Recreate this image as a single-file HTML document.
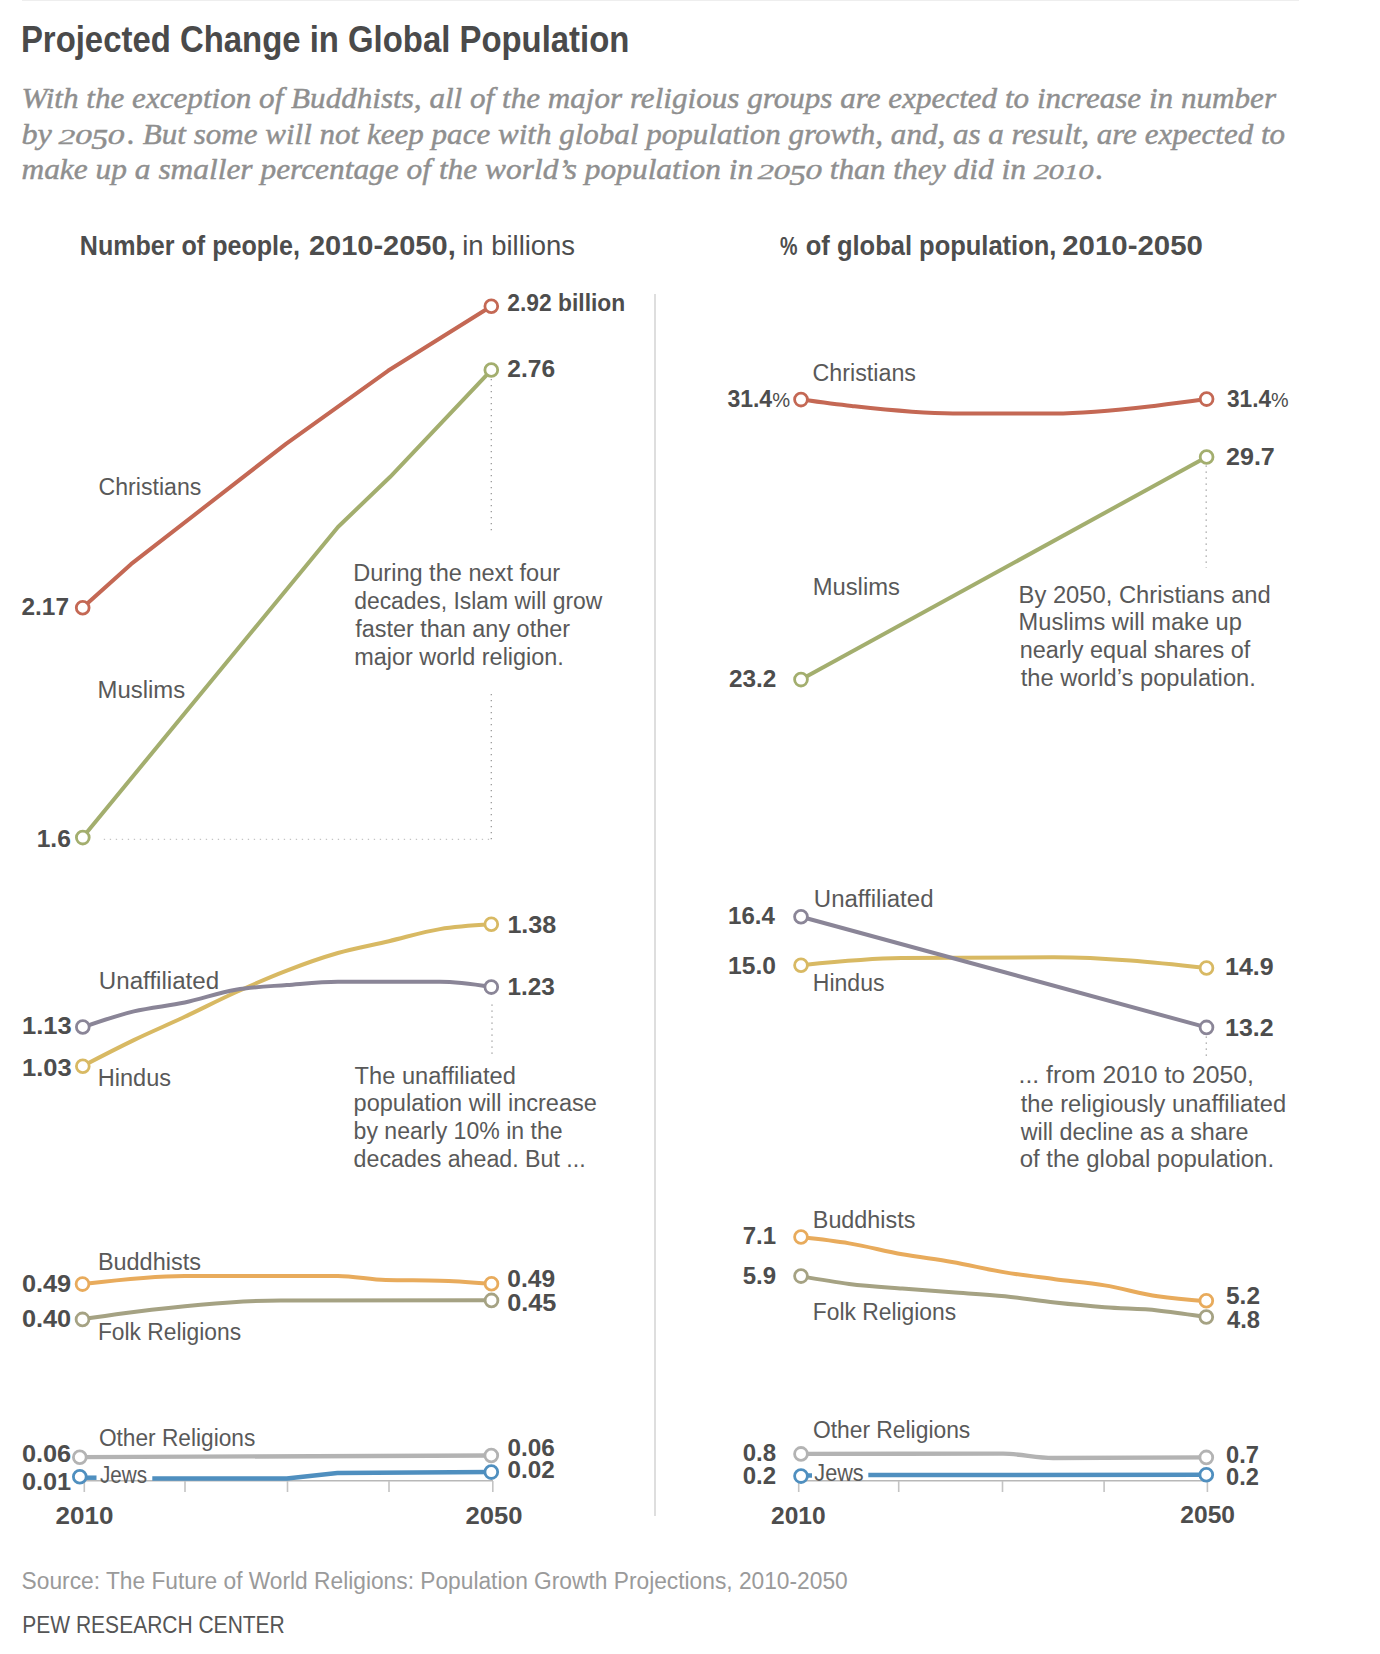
<!DOCTYPE html><html><head><meta charset="utf-8"><title>Projected Change in Global Population</title><style>html,body{margin:0;padding:0;background:#fff;width:1380px;height:1654px;overflow:hidden}svg{display:block}text{font-family:"Liberation Sans",sans-serif}</style></head><body>
<svg width="1380" height="1654" viewBox="0 0 1380 1654">
<rect x="0" y="0" width="1380" height="1654" fill="#fff"/>
<rect x="22" y="0" width="1277" height="1" fill="#eeeeee"/>
<rect x="654" y="294" width="2" height="1222" fill="#dedede"/>
<line x1="491.3" y1="379" x2="491.3" y2="534" stroke="#9a9a9a" stroke-width="1.3" stroke-dasharray="1.3 4.7"/>
<line x1="491.3" y1="694" x2="491.3" y2="840" stroke="#9a9a9a" stroke-width="1.3" stroke-dasharray="1.3 4.7"/>
<line x1="103.8" y1="839.3" x2="491.3" y2="839.3" stroke="#c4c4c4" stroke-width="1.3" stroke-dasharray="1.3 4.7"/>
<line x1="492" y1="1004.5" x2="492" y2="1056" stroke="#9a9a9a" stroke-width="1.3" stroke-dasharray="1.3 4.7"/>
<line x1="1206.2" y1="465.5" x2="1206.2" y2="568" stroke="#9a9a9a" stroke-width="1.3" stroke-dasharray="1.3 4.7"/>
<line x1="1206.3" y1="1036.5" x2="1206.3" y2="1056" stroke="#9a9a9a" stroke-width="1.3" stroke-dasharray="1.3 4.7"/>
<rect x="82" y="1480" width="411" height="1.5" fill="#b8b8b8"/>
<rect x="799" y="1480" width="409" height="1.5" fill="#b8b8b8"/>
<rect x="83.5" y="1481" width="1.6" height="11" fill="#c4c4c4"/>
<rect x="184.2" y="1481" width="1.6" height="11" fill="#c4c4c4"/>
<rect x="286.7" y="1481" width="1.6" height="11" fill="#c4c4c4"/>
<rect x="388.2" y="1481" width="1.6" height="11" fill="#c4c4c4"/>
<rect x="492.0" y="1481" width="1.6" height="11" fill="#c4c4c4"/>
<rect x="797.9000000000001" y="1481" width="1.6" height="11" fill="#c4c4c4"/>
<rect x="897.9000000000001" y="1481" width="1.6" height="11" fill="#c4c4c4"/>
<rect x="1001.7" y="1481" width="1.6" height="11" fill="#c4c4c4"/>
<rect x="1103.3" y="1481" width="1.6" height="11" fill="#c4c4c4"/>
<rect x="1206.6000000000001" y="1481" width="1.6" height="11" fill="#c4c4c4"/>
<path d="M82.8,607.6 L131,564.2 L286,443.8 L388,370.8 L491.3,306.3" fill="none" stroke="#c46854" stroke-width="4.0" stroke-linejoin="round"/>
<path d="M82.8,837.2 L338,527 L390,477 L491.3,370" fill="none" stroke="#a3ae6e" stroke-width="4.0" stroke-linejoin="round"/>
<path d="M82.8,1066.0 C99.8,1057.1 116.8,1048.3 133.8,1040.1 C150.8,1031.9 167.8,1024.8 184.8,1016.8 C201.8,1008.8 218.8,1000.0 235.8,992.3 C252.8,984.6 269.8,977.1 286.8,970.6 C303.8,964.0 320.9,957.9 337.9,953.0 C354.9,948.1 371.9,945.2 388.9,941.2 C405.9,937.2 422.9,931.9 439.9,929.1 C457.0,926.3 474.2,925.3 491.3,924.3" fill="none" stroke="#d8b963" stroke-width="4.0" stroke-linejoin="round"/>
<path d="M82.8,1027.2 C99.8,1021.4 116.8,1015.5 133.8,1011.4 C150.8,1007.3 167.8,1006.1 184.8,1002.5 C201.8,998.9 218.8,992.6 235.8,989.7 C252.8,986.8 269.8,986.3 286.8,985.0 C303.8,983.7 320.9,981.7 337.9,981.7 C371.9,981.7 405.9,981.7 439.9,981.7 C457.0,981.7 474.2,984.2 491.3,986.8" fill="none" stroke="#8a8597" stroke-width="4.0" stroke-linejoin="round"/>
<path d="M82.6,1284.0 C116.7,1280.0 150.7,1275.9 184.8,1275.9 C235.8,1275.9 286.9,1275.9 337.9,1275.9 C353.8,1275.9 369.8,1279.6 385.7,1280.0 C403.8,1280.5 421.8,1280.2 439.9,1280.7 C457.1,1281.1 474.2,1282.5 491.4,1283.8" fill="none" stroke="#e8ab5c" stroke-width="4.0" stroke-linejoin="round"/>
<path d="M82.6,1319.2 C99.7,1316.7 116.7,1314.1 133.8,1312.0 C182.7,1305.9 231.6,1300.6 280.5,1300.5 C350.8,1300.3 421.1,1300.2 491.4,1300.2" fill="none" stroke="#a5a283" stroke-width="4.0" stroke-linejoin="round"/>
<path d="M79.8,1457.2 L491.3,1455.5" fill="none" stroke="#b3b3b3" stroke-width="4.3" stroke-linejoin="round"/>
<path d="M801.0,399.6 C817.9,401.9 834.8,404.2 851.7,406.0 C885.5,409.7 919.2,413.5 953.0,413.5 C986.8,413.5 1020.7,413.5 1054.5,413.5 C1088.3,413.5 1122.2,409.5 1156.0,405.7 C1172.9,403.8 1189.7,401.5 1206.6,399.1" fill="none" stroke="#c46854" stroke-width="4.0" stroke-linejoin="round"/>
<path d="M801,679.6 L1206.6,457" fill="none" stroke="#a3ae6e" stroke-width="4.0" stroke-linejoin="round"/>
<path d="M801.0,965.2 C834.4,961.8 867.9,958.3 901.3,958.0 C952.3,957.5 1003.3,957.2 1054.3,957.2 C1105.0,957.2 1155.8,962.6 1206.5,968.0" fill="none" stroke="#d8b963" stroke-width="4.0" stroke-linejoin="round"/>
<path d="M801,916.7 L1206.5,1027.4" fill="none" stroke="#8a8597" stroke-width="4.0" stroke-linejoin="round"/>
<path d="M800.9,1237.1 C817.0,1238.9 833.1,1240.7 849.2,1243.4 C866.9,1246.3 884.5,1251.1 902.2,1254.3 C918.8,1257.3 935.4,1259.1 952.0,1262.0 C969.7,1265.1 987.3,1269.5 1005.0,1272.4 C1021.6,1275.2 1038.3,1277.0 1054.9,1279.2 C1071.5,1281.4 1088.1,1282.7 1104.7,1285.4 C1122.4,1288.3 1140.0,1293.6 1157.7,1296.3 C1173.9,1298.7 1190.0,1300.0 1206.2,1301.2" fill="none" stroke="#e8ab5c" stroke-width="4.0" stroke-linejoin="round"/>
<path d="M800.9,1276.1 C817.0,1279.0 833.1,1281.9 849.2,1283.9 C866.9,1286.1 884.5,1287.2 902.2,1288.6 C918.8,1289.9 935.4,1291.1 952.0,1292.3 C969.7,1293.6 987.3,1294.5 1005.0,1296.3 C1021.6,1298.0 1038.3,1300.8 1054.9,1302.6 C1071.5,1304.4 1088.1,1306.0 1104.7,1307.3 C1122.4,1308.7 1140.0,1308.6 1157.7,1310.4 C1173.9,1312.0 1190.0,1314.6 1206.2,1317.1" fill="none" stroke="#a5a283" stroke-width="4.0" stroke-linejoin="round"/>
<path d="M801.0,1453.9 C868.3,1453.8 935.7,1453.7 1003.0,1453.7 C1019.7,1453.7 1036.3,1458.0 1053.0,1458.0 C1104.1,1458.0 1155.2,1457.7 1206.3,1457.4" fill="none" stroke="#b3b3b3" stroke-width="4.3" stroke-linejoin="round"/>
<polyline points="79.8,1477.7 96.5,1477.7" fill="none" stroke="#4f8fbf" stroke-width="4.5"/>
<polyline points="152.3,1478.6 286.8,1478.6 337.4,1473 491.3,1472.1" fill="none" stroke="#4f8fbf" stroke-width="4.5" stroke-linejoin="round"/>
<polyline points="801,1475.5 812,1475.5" fill="none" stroke="#4f8fbf" stroke-width="4.5"/>
<polyline points="868.3,1475 1206.3,1474.8" fill="none" stroke="#4f8fbf" stroke-width="4.5"/>
<circle cx="82.7" cy="607.8" r="6.4" fill="#fff" stroke="#c46854" stroke-width="2.8"/>
<circle cx="491.3" cy="306.3" r="6.4" fill="#fff" stroke="#c46854" stroke-width="2.8"/>
<circle cx="82.8" cy="837.6" r="6.4" fill="#fff" stroke="#a3ae6e" stroke-width="2.8"/>
<circle cx="491.3" cy="370" r="6.4" fill="#fff" stroke="#a3ae6e" stroke-width="2.8"/>
<circle cx="82.8" cy="1027" r="6.4" fill="#fff" stroke="#8a8597" stroke-width="2.8"/>
<circle cx="491.3" cy="987.1" r="6.4" fill="#fff" stroke="#8a8597" stroke-width="2.8"/>
<circle cx="82.8" cy="1066.3" r="6.4" fill="#fff" stroke="#d8b963" stroke-width="2.8"/>
<circle cx="491.3" cy="924.3" r="6.4" fill="#fff" stroke="#d8b963" stroke-width="2.8"/>
<circle cx="82.5" cy="1284.1" r="6.4" fill="#fff" stroke="#e8ab5c" stroke-width="2.8"/>
<circle cx="491.5" cy="1283.7" r="6.4" fill="#fff" stroke="#e8ab5c" stroke-width="2.8"/>
<circle cx="82.5" cy="1319.4" r="6.4" fill="#fff" stroke="#a5a283" stroke-width="2.8"/>
<circle cx="491.5" cy="1300.4" r="6.4" fill="#fff" stroke="#a5a283" stroke-width="2.8"/>
<circle cx="79.8" cy="1457.2" r="6.4" fill="#fff" stroke="#b3b3b3" stroke-width="2.8"/>
<circle cx="491.3" cy="1455.5" r="6.4" fill="#fff" stroke="#b3b3b3" stroke-width="2.8"/>
<circle cx="79.8" cy="1476.7" r="6.4" fill="#fff" stroke="#4f8fbf" stroke-width="2.8"/>
<circle cx="491.3" cy="1472.1" r="6.4" fill="#fff" stroke="#4f8fbf" stroke-width="2.8"/>
<circle cx="801" cy="399.6" r="6.4" fill="#fff" stroke="#c46854" stroke-width="2.8"/>
<circle cx="1206.6" cy="399.1" r="6.4" fill="#fff" stroke="#c46854" stroke-width="2.8"/>
<circle cx="801" cy="679.6" r="6.4" fill="#fff" stroke="#a3ae6e" stroke-width="2.8"/>
<circle cx="1206.6" cy="457" r="6.4" fill="#fff" stroke="#a3ae6e" stroke-width="2.8"/>
<circle cx="801" cy="916.7" r="6.4" fill="#fff" stroke="#8a8597" stroke-width="2.8"/>
<circle cx="1206.5" cy="1027.4" r="6.4" fill="#fff" stroke="#8a8597" stroke-width="2.8"/>
<circle cx="801" cy="965.2" r="6.4" fill="#fff" stroke="#d8b963" stroke-width="2.8"/>
<circle cx="1206.5" cy="968" r="6.4" fill="#fff" stroke="#d8b963" stroke-width="2.8"/>
<circle cx="801" cy="1237" r="6.4" fill="#fff" stroke="#e8ab5c" stroke-width="2.8"/>
<circle cx="1206.3" cy="1300.7" r="6.4" fill="#fff" stroke="#e8ab5c" stroke-width="2.8"/>
<circle cx="801" cy="1276.1" r="6.4" fill="#fff" stroke="#a5a283" stroke-width="2.8"/>
<circle cx="1206.3" cy="1317" r="6.4" fill="#fff" stroke="#a5a283" stroke-width="2.8"/>
<circle cx="801" cy="1453.9" r="6.4" fill="#fff" stroke="#b3b3b3" stroke-width="2.8"/>
<circle cx="1206.3" cy="1457.4" r="6.4" fill="#fff" stroke="#b3b3b3" stroke-width="2.8"/>
<circle cx="801" cy="1476.1" r="6.4" fill="#fff" stroke="#4f8fbf" stroke-width="2.8"/>
<circle cx="1206.3" cy="1474.8" r="6.4" fill="#fff" stroke="#4f8fbf" stroke-width="2.8"/>
<text x="20.9" y="52" textLength="608.5" lengthAdjust="spacingAndGlyphs" font-size="37" font-weight="bold" fill="#4a4a4a">Projected Change in Global Population</text>
<text x="21.5" y="107.7" textLength="1254.5" lengthAdjust="spacingAndGlyphs" font-size="30" font-style="italic" style="font-family:&quot;Liberation Serif&quot;,serif" stroke="#8f8f8f" stroke-width="0.45" fill="#8f8f8f">With the exception of Buddhists, all of the major religious groups are expected to increase in number</text>
<text x="21.5" y="143.5" textLength="30.4" lengthAdjust="spacingAndGlyphs" font-size="30" font-style="italic" style="font-family:&quot;Liberation Serif&quot;,serif" stroke="#8f8f8f" stroke-width="0.45" fill="#8f8f8f">by</text>
<text transform="translate(58.6,143.5) scale(1,0.73)" x="0" y="0" textLength="16.9" lengthAdjust="spacingAndGlyphs" font-size="30" font-style="italic" style="font-family:&quot;Liberation Serif&quot;,serif" stroke="#8f8f8f" stroke-width="0.45" fill="#8f8f8f">2</text>
<text transform="translate(74.9,143.5) scale(1,0.73)" x="0" y="0" textLength="16.9" lengthAdjust="spacingAndGlyphs" font-size="30" font-style="italic" style="font-family:&quot;Liberation Serif&quot;,serif" stroke="#8f8f8f" stroke-width="0.45" fill="#8f8f8f">0</text>
<text x="91.2" y="148.8" textLength="16.9" lengthAdjust="spacingAndGlyphs" font-size="30" font-style="italic" style="font-family:&quot;Liberation Serif&quot;,serif" stroke="#8f8f8f" stroke-width="0.45" fill="#8f8f8f">5</text>
<text transform="translate(107.5,143.5) scale(1,0.73)" x="0" y="0" textLength="16.9" lengthAdjust="spacingAndGlyphs" font-size="30" font-style="italic" style="font-family:&quot;Liberation Serif&quot;,serif" stroke="#8f8f8f" stroke-width="0.45" fill="#8f8f8f">0</text>
<text x="127.3" y="143.5" textLength="1157.8" lengthAdjust="spacingAndGlyphs" font-size="30" font-style="italic" style="font-family:&quot;Liberation Serif&quot;,serif" stroke="#8f8f8f" stroke-width="0.45" fill="#8f8f8f">. But some will not keep pace with global population growth, and, as a result, are expected to</text>
<text x="21.5" y="179.3" textLength="731.7" lengthAdjust="spacingAndGlyphs" font-size="30" font-style="italic" style="font-family:&quot;Liberation Serif&quot;,serif" stroke="#8f8f8f" stroke-width="0.45" fill="#8f8f8f">make up a smaller percentage of the world’s population in</text>
<text transform="translate(757.4,179.3) scale(1,0.73)" x="0" y="0" textLength="16.6" lengthAdjust="spacingAndGlyphs" font-size="30" font-style="italic" style="font-family:&quot;Liberation Serif&quot;,serif" stroke="#8f8f8f" stroke-width="0.45" fill="#8f8f8f">2</text>
<text transform="translate(773.4,179.3) scale(1,0.73)" x="0" y="0" textLength="16.6" lengthAdjust="spacingAndGlyphs" font-size="30" font-style="italic" style="font-family:&quot;Liberation Serif&quot;,serif" stroke="#8f8f8f" stroke-width="0.45" fill="#8f8f8f">0</text>
<text x="789.3" y="184.60000000000002" textLength="16.6" lengthAdjust="spacingAndGlyphs" font-size="30" font-style="italic" style="font-family:&quot;Liberation Serif&quot;,serif" stroke="#8f8f8f" stroke-width="0.45" fill="#8f8f8f">5</text>
<text transform="translate(805.3,179.3) scale(1,0.73)" x="0" y="0" textLength="16.6" lengthAdjust="spacingAndGlyphs" font-size="30" font-style="italic" style="font-family:&quot;Liberation Serif&quot;,serif" stroke="#8f8f8f" stroke-width="0.45" fill="#8f8f8f">0</text>
<text x="829.7" y="179.3" textLength="196.2" lengthAdjust="spacingAndGlyphs" font-size="30" font-style="italic" style="font-family:&quot;Liberation Serif&quot;,serif" stroke="#8f8f8f" stroke-width="0.45" fill="#8f8f8f">than they did in</text>
<text transform="translate(1033.7,179.3) scale(1,0.73)" x="0" y="0" textLength="15.4" lengthAdjust="spacingAndGlyphs" font-size="30" font-style="italic" style="font-family:&quot;Liberation Serif&quot;,serif" stroke="#8f8f8f" stroke-width="0.45" fill="#8f8f8f">2</text>
<text transform="translate(1048.5,179.3) scale(1,0.73)" x="0" y="0" textLength="15.4" lengthAdjust="spacingAndGlyphs" font-size="30" font-style="italic" style="font-family:&quot;Liberation Serif&quot;,serif" stroke="#8f8f8f" stroke-width="0.45" fill="#8f8f8f">0</text>
<text transform="translate(1063.4,179.3) scale(1,0.73)" x="0" y="0" textLength="15.4" lengthAdjust="spacingAndGlyphs" font-size="30" font-style="italic" style="font-family:&quot;Liberation Serif&quot;,serif" stroke="#8f8f8f" stroke-width="0.45" fill="#8f8f8f">1</text>
<text transform="translate(1078.2,179.3) scale(1,0.73)" x="0" y="0" textLength="15.4" lengthAdjust="spacingAndGlyphs" font-size="30" font-style="italic" style="font-family:&quot;Liberation Serif&quot;,serif" stroke="#8f8f8f" stroke-width="0.45" fill="#8f8f8f">0</text>
<text x="1095.5" y="179.3" textLength="8.3" lengthAdjust="spacingAndGlyphs" font-size="30" font-style="italic" style="font-family:&quot;Liberation Serif&quot;,serif" stroke="#8f8f8f" stroke-width="0.45" fill="#8f8f8f">.</text>
<text x="79.8" y="255.1" textLength="220.2" lengthAdjust="spacingAndGlyphs" font-size="27" font-weight="bold" fill="#4d4d4d">Number of people,</text>
<text x="308.9" y="255.1" textLength="146.8" lengthAdjust="spacingAndGlyphs" font-size="27" font-weight="bold" fill="#4d4d4d">2010-2050,</text>
<text x="462.2" y="255.1" textLength="112.9" lengthAdjust="spacingAndGlyphs" font-size="27" fill="#4d4d4d">in billions</text>
<text x="780.0" y="255.3" textLength="17.5" lengthAdjust="spacingAndGlyphs" font-size="25" font-weight="bold" fill="#4d4d4d">%</text>
<text x="805.8" y="255.3" textLength="250.6" lengthAdjust="spacingAndGlyphs" font-size="27" font-weight="bold" fill="#4d4d4d">of global population,</text>
<text x="1062.2" y="255.3" textLength="140.7" lengthAdjust="spacingAndGlyphs" font-size="27" font-weight="bold" fill="#4d4d4d">2010-2050</text>
<text x="507.3" y="311.3" textLength="117.9" lengthAdjust="spacingAndGlyphs" font-size="24" font-weight="bold" fill="#4d4d4d">2.92 billion</text>
<text x="507.3" y="377.2" textLength="47.8" lengthAdjust="spacingAndGlyphs" font-size="24" font-weight="bold" fill="#4d4d4d">2.76</text>
<text x="98.6" y="494.8" textLength="102.7" lengthAdjust="spacingAndGlyphs" font-size="23" fill="#595959">Christians</text>
<text x="21.5" y="614.8" textLength="47.5" lengthAdjust="spacingAndGlyphs" font-size="24" font-weight="bold" fill="#4d4d4d">2.17</text>
<text x="97.5" y="698.3" textLength="87.6" lengthAdjust="spacingAndGlyphs" font-size="23" fill="#595959">Muslims</text>
<text x="353.2" y="581" textLength="206.9" lengthAdjust="spacingAndGlyphs" font-size="23" fill="#595959">During the next four</text>
<text x="354.2" y="608.8" textLength="248.1" lengthAdjust="spacingAndGlyphs" font-size="23" fill="#595959">decades, Islam will grow</text>
<text x="355.2" y="636.8" textLength="214.8" lengthAdjust="spacingAndGlyphs" font-size="23" fill="#595959">faster than any other</text>
<text x="354.2" y="664.6" textLength="209.7" lengthAdjust="spacingAndGlyphs" font-size="23" fill="#595959">major world religion.</text>
<text x="36.7" y="846.5" textLength="34.2" lengthAdjust="spacingAndGlyphs" font-size="24" font-weight="bold" fill="#4d4d4d">1.6</text>
<text x="507.4" y="932.5" textLength="48.9" lengthAdjust="spacingAndGlyphs" font-size="24" font-weight="bold" fill="#4d4d4d">1.38</text>
<text x="507.4" y="995.4" textLength="47.3" lengthAdjust="spacingAndGlyphs" font-size="24" font-weight="bold" fill="#4d4d4d">1.23</text>
<text x="98.8" y="988.5" textLength="120.4" lengthAdjust="spacingAndGlyphs" font-size="23" fill="#595959">Unaffiliated</text>
<text x="22.0" y="1033.5" textLength="49.7" lengthAdjust="spacingAndGlyphs" font-size="24" font-weight="bold" fill="#4d4d4d">1.13</text>
<text x="22.0" y="1075.6" textLength="49.7" lengthAdjust="spacingAndGlyphs" font-size="24" font-weight="bold" fill="#4d4d4d">1.03</text>
<text x="97.8" y="1086.1" textLength="73.3" lengthAdjust="spacingAndGlyphs" font-size="23" fill="#595959">Hindus</text>
<text x="354.6" y="1083.6" textLength="161.2" lengthAdjust="spacingAndGlyphs" font-size="23" fill="#595959">The unaffiliated</text>
<text x="353.6" y="1111" textLength="243.3" lengthAdjust="spacingAndGlyphs" font-size="23" fill="#595959">population will increase</text>
<text x="353.6" y="1139.4" textLength="209.0" lengthAdjust="spacingAndGlyphs" font-size="23" fill="#595959">by nearly 10% in the</text>
<text x="353.6" y="1166.8" textLength="232.1" lengthAdjust="spacingAndGlyphs" font-size="23" fill="#595959">decades ahead. But ...</text>
<text x="97.9" y="1269.8" textLength="103.0" lengthAdjust="spacingAndGlyphs" font-size="23" fill="#595959">Buddhists</text>
<text x="21.9" y="1291.5" textLength="49.3" lengthAdjust="spacingAndGlyphs" font-size="24" font-weight="bold" fill="#4d4d4d">0.49</text>
<text x="21.9" y="1327.2" textLength="49.3" lengthAdjust="spacingAndGlyphs" font-size="24" font-weight="bold" fill="#4d4d4d">0.40</text>
<text x="97.9" y="1339.8" textLength="143.2" lengthAdjust="spacingAndGlyphs" font-size="23" fill="#595959">Folk Religions</text>
<text x="507.3" y="1287.4" textLength="47.8" lengthAdjust="spacingAndGlyphs" font-size="24" font-weight="bold" fill="#4d4d4d">0.49</text>
<text x="507.2" y="1311.3" textLength="49.2" lengthAdjust="spacingAndGlyphs" font-size="24" font-weight="bold" fill="#4d4d4d">0.45</text>
<text x="98.9" y="1445.7" textLength="156.4" lengthAdjust="spacingAndGlyphs" font-size="23" fill="#595959">Other Religions</text>
<text x="21.9" y="1461.5" textLength="49.3" lengthAdjust="spacingAndGlyphs" font-size="24" font-weight="bold" fill="#4d4d4d">0.06</text>
<text x="21.9" y="1489.8" textLength="49.3" lengthAdjust="spacingAndGlyphs" font-size="24" font-weight="bold" fill="#4d4d4d">0.01</text>
<text x="99.9" y="1482.5" textLength="47.1" lengthAdjust="spacingAndGlyphs" font-size="23" fill="#595959">Jews</text>
<text x="507.5" y="1455.5" textLength="47.3" lengthAdjust="spacingAndGlyphs" font-size="24" font-weight="bold" fill="#4d4d4d">0.06</text>
<text x="507.5" y="1478" textLength="47.2" lengthAdjust="spacingAndGlyphs" font-size="24" font-weight="bold" fill="#4d4d4d">0.02</text>
<text x="55.5" y="1523.5" textLength="57.9" lengthAdjust="spacingAndGlyphs" font-size="24" font-weight="bold" fill="#4d4d4d">2010</text>
<text x="465.4" y="1523.8" textLength="57.0" lengthAdjust="spacingAndGlyphs" font-size="24" font-weight="bold" fill="#4d4d4d">2050</text>
<text x="727.4" y="407" textLength="62.7" lengthAdjust="spacingAndGlyphs" font-size="24" font-weight="bold" fill="#4d4d4d">31.4<tspan font-weight="normal" font-size="21">%</tspan></text>
<text x="812.5" y="381.3" textLength="103.5" lengthAdjust="spacingAndGlyphs" font-size="23" fill="#595959">Christians</text>
<text x="1227.0" y="407" textLength="61.7" lengthAdjust="spacingAndGlyphs" font-size="24" font-weight="bold" fill="#4d4d4d">31.4<tspan font-weight="normal" font-size="21">%</tspan></text>
<text x="1226.0" y="464.9" textLength="48.8" lengthAdjust="spacingAndGlyphs" font-size="24" font-weight="bold" fill="#4d4d4d">29.7</text>
<text x="812.7" y="594.8" textLength="87.2" lengthAdjust="spacingAndGlyphs" font-size="23" fill="#595959">Muslims</text>
<text x="729.0" y="686.7" textLength="47.4" lengthAdjust="spacingAndGlyphs" font-size="24" font-weight="bold" fill="#4d4d4d">23.2</text>
<text x="1018.6" y="602.6" textLength="252.2" lengthAdjust="spacingAndGlyphs" font-size="23" fill="#595959">By 2050, Christians and</text>
<text x="1018.6" y="630.4" textLength="223.3" lengthAdjust="spacingAndGlyphs" font-size="23" fill="#595959">Muslims will make up</text>
<text x="1019.7" y="658.3" textLength="230.6" lengthAdjust="spacingAndGlyphs" font-size="23" fill="#595959">nearly equal shares of</text>
<text x="1020.7" y="685.9" textLength="235.1" lengthAdjust="spacingAndGlyphs" font-size="23" fill="#595959">the world’s population.</text>
<text x="813.8" y="906.5" textLength="119.7" lengthAdjust="spacingAndGlyphs" font-size="23" fill="#595959">Unaffiliated</text>
<text x="728.1" y="924.3" textLength="46.8" lengthAdjust="spacingAndGlyphs" font-size="24" font-weight="bold" fill="#4d4d4d">16.4</text>
<text x="728.1" y="974.3" textLength="47.9" lengthAdjust="spacingAndGlyphs" font-size="24" font-weight="bold" fill="#4d4d4d">15.0</text>
<text x="812.8" y="990.7" textLength="71.7" lengthAdjust="spacingAndGlyphs" font-size="23" fill="#595959">Hindus</text>
<text x="1225.0" y="974.6" textLength="48.6" lengthAdjust="spacingAndGlyphs" font-size="24" font-weight="bold" fill="#4d4d4d">14.9</text>
<text x="1225.0" y="1036.1" textLength="48.6" lengthAdjust="spacingAndGlyphs" font-size="24" font-weight="bold" fill="#4d4d4d">13.2</text>
<text x="1018.5" y="1083.3" textLength="235.4" lengthAdjust="spacingAndGlyphs" font-size="23" fill="#595959">... from 2010 to 2050,</text>
<text x="1020.7" y="1111.5" textLength="265.4" lengthAdjust="spacingAndGlyphs" font-size="23" fill="#595959">the religiously unaffiliated</text>
<text x="1020.7" y="1139.8" textLength="227.7" lengthAdjust="spacingAndGlyphs" font-size="23" fill="#595959">will decline as a share</text>
<text x="1019.7" y="1167" textLength="254.4" lengthAdjust="spacingAndGlyphs" font-size="23" fill="#595959">of the global population.</text>
<text x="812.8" y="1228.3" textLength="102.6" lengthAdjust="spacingAndGlyphs" font-size="23" fill="#595959">Buddhists</text>
<text x="742.7" y="1243.5" textLength="33.4" lengthAdjust="spacingAndGlyphs" font-size="24" font-weight="bold" fill="#4d4d4d">7.1</text>
<text x="742.7" y="1283.7" textLength="33.4" lengthAdjust="spacingAndGlyphs" font-size="24" font-weight="bold" fill="#4d4d4d">5.9</text>
<text x="812.8" y="1319.6" textLength="143.3" lengthAdjust="spacingAndGlyphs" font-size="23" fill="#595959">Folk Religions</text>
<text x="1226.0" y="1303.9" textLength="34.0" lengthAdjust="spacingAndGlyphs" font-size="24" font-weight="bold" fill="#4d4d4d">5.2</text>
<text x="1227.0" y="1327.8" textLength="33.0" lengthAdjust="spacingAndGlyphs" font-size="24" font-weight="bold" fill="#4d4d4d">4.8</text>
<text x="812.9" y="1438" textLength="157.4" lengthAdjust="spacingAndGlyphs" font-size="23" fill="#595959">Other Religions</text>
<text x="742.7" y="1460.9" textLength="33.4" lengthAdjust="spacingAndGlyphs" font-size="24" font-weight="bold" fill="#4d4d4d">0.8</text>
<text x="742.7" y="1483.7" textLength="33.4" lengthAdjust="spacingAndGlyphs" font-size="24" font-weight="bold" fill="#4d4d4d">0.2</text>
<text x="814.3" y="1480.9" textLength="49.4" lengthAdjust="spacingAndGlyphs" font-size="23" fill="#595959">Jews</text>
<text x="1226.0" y="1463" textLength="32.9" lengthAdjust="spacingAndGlyphs" font-size="24" font-weight="bold" fill="#4d4d4d">0.7</text>
<text x="1226.0" y="1485.2" textLength="32.9" lengthAdjust="spacingAndGlyphs" font-size="24" font-weight="bold" fill="#4d4d4d">0.2</text>
<text x="771.0" y="1523.9" textLength="54.6" lengthAdjust="spacingAndGlyphs" font-size="24" font-weight="bold" fill="#4d4d4d">2010</text>
<text x="1180.3" y="1523.3" textLength="54.7" lengthAdjust="spacingAndGlyphs" font-size="24" font-weight="bold" fill="#4d4d4d">2050</text>
<text x="21.6" y="1589.3" textLength="826.1" lengthAdjust="spacingAndGlyphs" font-size="23" fill="#9a9a9a">Source: The Future of World Religions: Population Growth Projections, 2010-2050</text>
<text x="22.3" y="1633.3" textLength="262.5" lengthAdjust="spacingAndGlyphs" font-size="23" fill="#555555">PEW RESEARCH CENTER</text>
</svg></body></html>
